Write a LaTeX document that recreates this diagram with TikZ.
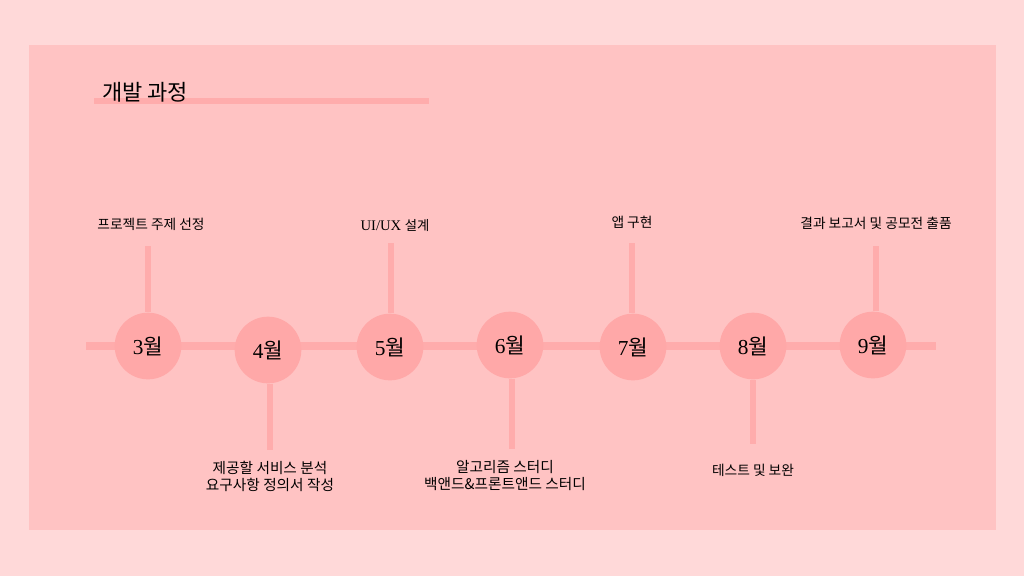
\documentclass[tikz,border=0pt]{standalone}
\usepackage{fontspec}
\setmainfont{Liberation Serif}
\newfontfamily\kr{Noto Sans CJK KR}
\begin{document}
\begin{tikzpicture}[x=0.75pt,y=-0.75pt,
  outerbg/.style={fill=outercol},
  innerbg/.style={fill=innercol},
  dot/.style={circle,fill=dotcol,minimum size=50pt,inner sep=0pt,font=\fontsize{16}{18}\selectfont},
  stem/.style={draw=linecol,line width=3.8pt},
  axis/.style={draw=linecol,line width=6pt},
  lbl/.style={font=\kr\fontsize{10.3}{12.75}\selectfont,align=center,text=black},
  lbltwo/.style={font=\kr\fontsize{11}{12.75}\selectfont,align=center,text=black}]
\definecolor{outercol}{RGB}{255,217,217}
\definecolor{innercol}{RGB}{255,195,195}
\definecolor{dotcol}{RGB}{255,168,168}
\definecolor{linecol}{RGB}{255,172,172}
\useasboundingbox (0,0) rectangle (1024,576);
\fill[outerbg] (0,0) rectangle (1024,576);
\fill[innerbg] (29,45) rectangle (996,530);
% title
\draw[draw=linecol,line width=4pt] (94,101) coordinate (ul1) -- (429,101) coordinate (ul2);
\node[anchor=west,font=\kr\fontsize{16.5}{18}\selectfont,inner sep=0pt] (title) at (102,92) {개발 과정};
% axis
\coordinate (axL) at (86,346);
\coordinate (axR) at (936,346);
\draw[axis] (axL) -- (axR);
% stems
\coordinate (s3) at (148,246); \coordinate (s5) at (391,243);
\coordinate (s7) at (632,243); \coordinate (s9) at (876,246);
\coordinate (s4) at (270,450); \coordinate (s6) at (512,449);
\coordinate (s8) at (753,444);
\node[dot] (m3) at (148,346) {3{\kr 월}};
\node[dot] (m4) at (268,350) {4{\kr 월}};
\node[dot] (m5) at (390,347) {5{\kr 월}};
\node[dot] (m6) at (510,345) {6{\kr 월}};
\node[dot] (m7) at (633,347) {7{\kr 월}};
\node[dot] (m8) at (753,346) {8{\kr 월}};
\node[dot] (m9) at (873,345) {9{\kr 월}};
\draw[stem] (s3) -- (s3 |- m3.north);
\draw[stem] (s5) -- (s5 |- m5.north);
\draw[stem] (s7) -- (s7 |- m7.north);
\draw[stem] (s9) -- (s9 |- m9.north);
\draw[stem] (s4 |- m4.south) -- (s4);
\draw[stem] (s6 |- m6.south) -- (s6);
\draw[stem] (s8 |- m8.south) -- (s8);
% labels
\node[lbl] (t3) at (151,224) {프로젝트 주제 선정};
\node[lbl,font=\fontsize{11}{12}\selectfont] (t5) at (395,225) {UI/UX {\kr\fontsize{10}{11}\selectfont 설계}};
\node[lbl] (t7) at (632,222) {앱 구현};
\node[lbl] (t9) at (876,223) {결과 보고서 및 공모전 출품};
\node[lbltwo] (t4) at (270,476) {제공할 서비스 분석\\요구사항 정의서 작성};
\node[lbltwo] (t6) at (505,476) {알고리즘 스터디\\백앤드\&프론트앤드 스터디};
\node[lbl] (t8) at (753,470) {테스트 및 보완};
\end{tikzpicture}
\end{document}
